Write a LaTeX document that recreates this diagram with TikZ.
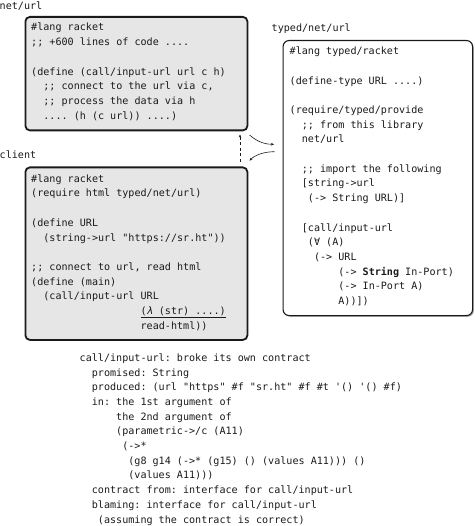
\documentclass[tikz,border=0pt]{standalone}
\usepackage{fontspec}
\setmonofont{DejaVu Sans Mono}
\usetikzlibrary{arrows.meta,shadows}
\definecolor{boxgray}{HTML}{E6E6E6}
\definecolor{ink}{HTML}{1A1A1A}
\newcommand{\cb}[1]{\begin{tabular}[t]{@{}l@{}}#1\end{tabular}}
\newcommand{\ind}[1]{\hspace*{#1\fontcharwd\font`\x}}
\tikzset{
  code/.style={anchor=base west, inner sep=0pt, text=ink,
    font=\ttfamily\fontsize{10.1}{14.7}\selectfont},
  graybox/.style={draw=ink, line width=1.8pt, fill=boxgray, rounded corners=4.5pt,
    anchor=north west, inner sep=0pt},
  whitebox/.style={draw=ink, line width=1.1pt, fill=white, rounded corners=6pt,
    anchor=north west, inner sep=0pt,
    drop shadow={shadow xshift=1.2pt, shadow yshift=-1.2pt, fill=gray!70, opacity=1}},
  conn/.style={ink, line width=0.6pt, -{Stealth[length=3pt,width=2.6pt]}},
}
\begin{document}
\begin{tikzpicture}[x=1pt,y=-1pt]
\useasboundingbox (0,0) rectangle (474,526);

% labels
\node[code] (lnet) at (-0.5,9.5) {net/url};
\node[code] (lclient) at (-0.5,158.5) {client};
\node[code] (ltyped) at (271.5,31.5) {typed/net/url};

% boxes
\node[graybox, minimum width=222pt, minimum height=113.5pt] (netbox) at (24.5,16) {};
\node[graybox, minimum width=222pt, minimum height=172.5pt] (clientbox) at (24.5,166.5) {};
\node[whitebox, minimum width=189.5pt, minimum height=275pt] (typedbox) at (282.5,40) {};

% box texts
\node[code] (nettext) at (31,31) {\cb{%
\#lang racket\\
;; +600 lines of code ....\\
\\
(define (call/input-url url c h)\\
\ind2;; connect to the url via c,\\
\ind2;; process the data via h\\
\ind2.... (h (c url)) ....)}};

\node[code] (clienttext) at (31,182.3) {\cb{%
\#lang racket\\
(require html typed/net/url)\\
\\
(define URL\\
\ind2(string->url "https://sr.ht"))\\
\\
;; connect to url, read html\\
(define (main)\\
\ind2(call/input-url URL\\
\ind{18}\underline{(\textit{λ} (str) ....)}\\
\ind{18}read-html))}};

\node[code] (typedtext) at (289.5,54.7) {\cb{%
\#lang typed/racket\\
\\
(define-type URL ....)\\
\\
(require/typed/provide\\
\ind2;; from this library\\
\ind2net/url\\
\\
\ind2;; import the following\\
\ind2[string->url\\
\ind3(-> String URL)]\\
\\
\ind2[call/input-url\\
\ind3(∀ (A)\\
\ind4(-> URL\\
\ind8(-> \textbf{String} In-Port)\\
\ind8(-> In-Port A)\\
\ind8A))])}};

% error message
\node[code] (errtext) at (79.5,361.3) {\cb{%
call/input-url: broke its own contract\\
\ind2promised: String\\
\ind2produced: (url "https" \#f "sr.ht" \#f \#t '() '() \#f)\\
\ind2in: the 1st argument of\\
\ind6the 2nd argument of\\
\ind6(parametric->/c (A11)\\
\ind7(->*\\
\ind8(g8 g14 (->* (g15) () (values A11))) ()\\
\ind8(values A11)))\\
\ind2contract from: interface for call/input-url\\
\ind2blaming: interface for call/input-url\\
\ind3(assuming the contract is correct)}};

% connectors
\coordinate (dbot) at (240,162);
\coordinate (dtop) at (240,134.5);
\draw[conn, dash pattern=on 3pt off 2.5pt] (dbot) -- (dtop);
\coordinate (aS) at (249.5,135);
\coordinate (aE) at (274,144.3);
\draw[conn] (aS) .. controls (256,140.5) and (263,144.3) .. (aE);
\coordinate (bS) at (274.5,151.7);
\coordinate (bE) at (249.5,160.7);
\draw[conn] (bS) .. controls (264,151.7) and (255,155) .. (bE);
\end{tikzpicture}
\end{document}
